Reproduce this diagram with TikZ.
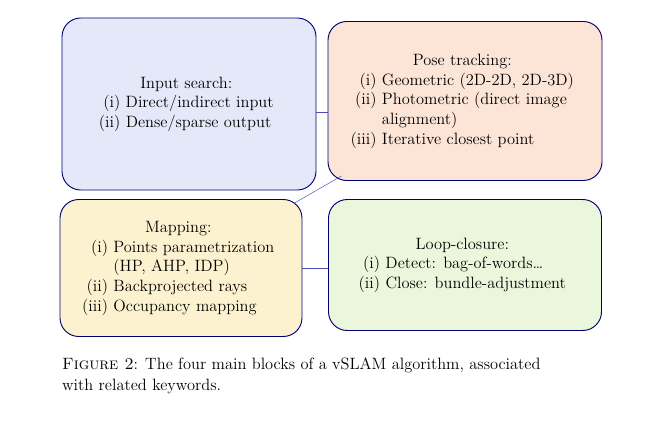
\documentclass[tikz,border=0pt]{standalone}
\usepackage{tikz}
\usetikzlibrary{positioning, calc}
\tikzset{block/.style={draw=blue!45!black, rounded corners=16pt, thick, align=left, font=\fontsize{14}{17}\selectfont}}
\tikzset{link/.style={draw=blue!60!black!70}}
\definecolor{inblue}{HTML}{E4E8F8}
\definecolor{poseor}{HTML}{FCE4D6}
\definecolor{mapyel}{HTML}{FDF2D0}
\definecolor{loopgr}{HTML}{EAF7DD}
\begin{document}
\begin{tikzpicture}[x=0.03cm, y=-0.03cm]
      \useasboundingbox (0,0) rectangle (646,424);

      \node[block, fill=inblue, minimum width=254*0.03cm, minimum height=172*0.03cm] (search) at (189,104) {
        \begin{tabular}{@{}r@{~}l@{}}
          \multicolumn{2}{c}{Input search:} \\
          (i) & Direct/indirect input \\
          (ii) & Dense/sparse output \\
        \end{tabular}
      };

      \node[block, fill=poseor, minimum width=274*0.03cm, minimum height=159*0.03cm] (pose) at (465,101) {
        \begin{tabular}{@{}r@{~}l@{}}
          \multicolumn{2}{c}{Pose tracking:} \\
          (i) & Geometric (2D-2D, 2D-3D) \\
          (ii) & Photometric (direct image \\
               & alignment) \\
          (iii) & Iterative closest point \\
        \end{tabular}
      };

      \node[block, fill=mapyel, minimum width=242*0.03cm, minimum height=137*0.03cm] (mapping) at (181,268) {
        \begin{tabular}{@{}r@{~}l@{}}
          \multicolumn{2}{c}{Mapping:} \\
          (i) & Points parametrization \\
              & (HP, AHP, IDP) \\
          (ii) & Backprojected rays \\
          (iii) & Occupancy mapping \\
        \end{tabular}
      };

      \node[block, fill=loopgr, minimum width=273*0.03cm, minimum height=131*0.03cm] (closure) at (465,265) {
        \begin{tabular}{@{}r@{~}l@{}}
          \multicolumn{2}{c}{Loop-closure:} \\
          (i) & Detect: bag-of-words\dots \\
          (ii) & Close: bundle-adjustment \\
        \end{tabular}
      };

      \draw[link] (search.east |- 0,112) -- (pose.west |- 0,112);
      \draw[link] ($(mapping.north east)+(-8,4)$) -- ($(pose.south west)+(14,-5)$);
      \draw[link] (mapping.east |- 0,268) -- (closure.west |- 0,268);

      \node[anchor=north west, align=left, font=\fontsize{14}{18}\selectfont] (caption) at (58,354) {\textsc{Figure 2}: The four main blocks of a vSLAM algorithm, associated\\with related keywords.};
\end{tikzpicture}
\end{document}
